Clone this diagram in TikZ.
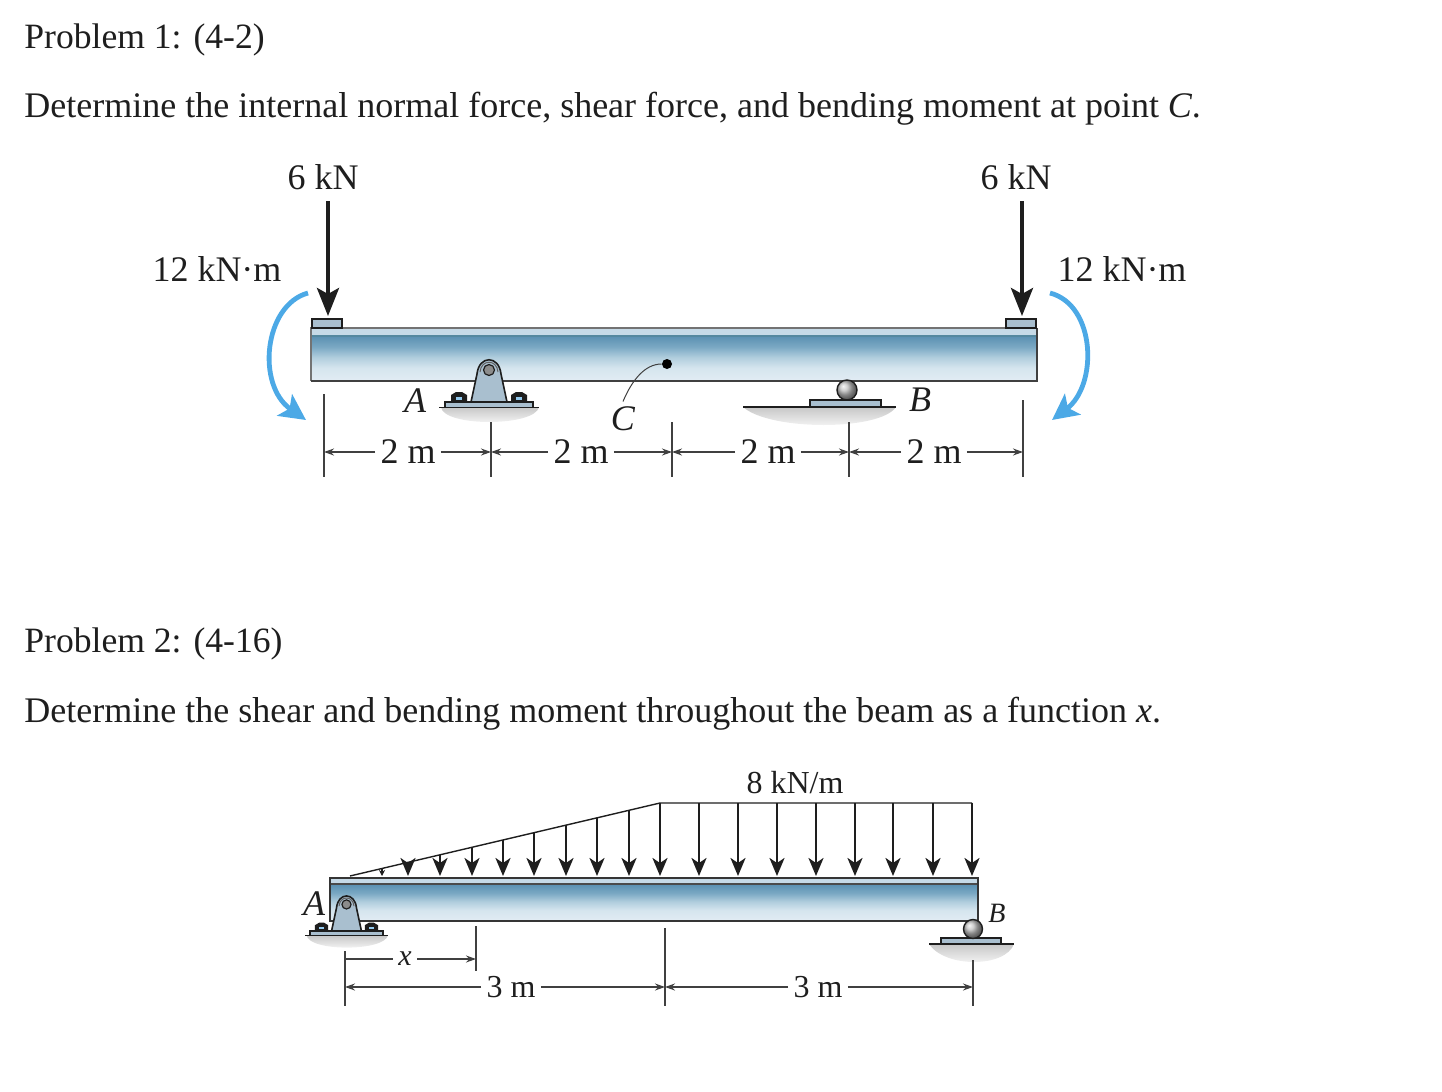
\documentclass[tikz,border=0pt]{standalone}
\usepackage{fontspec}
\setmainfont{Liberation Serif}
\usepackage{xcolor}
\usetikzlibrary{arrows.meta, positioning}
\definecolor{inkblack}{HTML}{1E1E1E}
\definecolor{steelblue}{HTML}{A9BFCF}
\definecolor{beamdark}{HTML}{54889F}
\definecolor{beamstrip}{HTML}{C6DAE7}
\definecolor{momentblue}{HTML}{4CA9E6}
\definecolor{faceA}{HTML}{5D92B3}
\definecolor{faceB}{HTML}{7BA9C4}
\definecolor{faceC}{HTML}{B0CDDD}
\definecolor{faceD}{HTML}{D5E5EE}
\definecolor{faceE}{HTML}{E2ECF4}
\pgfdeclareverticalshading{beamshade}{100bp}{color(0bp)=(faceE); color(25bp)=(faceE); color(40bp)=(faceD); color(52bp)=(faceC); color(63.5bp)=(faceB); color(75bp)=(faceA); color(100bp)=(faceA)}
\tikzset{
  >={Stealth},
  prose/.style={anchor=base west, inner sep=0pt, text=inkblack, font=\fontsize{18}{20}\selectfont},
  heading/.style={prose, font=\fontsize{17.8}{20}\selectfont},
  dimlabel/.style={inner sep=2.5pt, text=inkblack, font=\fontsize{18}{20}\selectfont},
  smalllabel/.style={inner sep=2.5pt, text=inkblack, font=\fontsize{16}{20}\selectfont},
  pointlabel/.style={inner sep=2.5pt, text=inkblack, font=\fontsize{18}{20}\selectfont\itshape},
  ticks/.style={draw=inkblack!85, line width=.8pt},
  dimline/.style={draw=inkblack!85, line width=.7pt, -{Stealth[length=5pt, width=3.5pt]}},
  forcearrow/.style={draw=inkblack, line width=2pt, -{Stealth[length=14pt, width=11pt, inset=3pt]}},
  loadarrow/.style={draw=inkblack, line width=1.3pt, -{Stealth[length=9pt, width=7.5pt, inset=2.5pt]}},
  momentarrow/.style={draw=momentblue, line width=2.4pt, -{Stealth[length=13pt, width=13pt, inset=3pt]}},
  beamface/.style={shading=beamshade},
  groundshade/.style={top color=black!22, bottom color=white},
  plate/.style={fill=steelblue, draw=inkblack, line width=.8pt},
  pics/pinsup/.style={code={
    \shade[groundshade] (-48,5) .. controls (-46,25) and (46,25) .. (50,5) -- cycle;
    \draw[plate] (-44,0) rectangle (44,5.5);
    \draw[inkblack, line width=.7pt] (-50,5.5) -- (50,5.5);
    \foreach \s in {-30,30}{
      \fill[inkblack] (\s-8,0) -- (\s-8,-7) -- (\s-3,-10) -- (\s+3,-10) -- (\s+8,-7) -- (\s+8,0) -- cycle;
      \fill[momentblue!60] (\s-3,-2.5) rectangle (\s+3,-5);
    }
    \draw[plate] (-18,0) -- (-12,-28) .. controls (-10,-47) and (10,-47) .. (12,-28) -- (18,0) -- cycle;
    \draw[inkblack!70, line width=.5pt] (-9,-30) .. controls (-8,-43) and (8,-43) .. (9,-30);
    \draw[fill=black!45, draw=inkblack, line width=.6pt] (0,-32) circle (5.5);
  }}
}
\begin{document}
\begin{tikzpicture}[x=.5pt, y=-.5pt]
  \useasboundingbox (0,0) rectangle (1442,1092);

  % text
  \node[heading] (title1) at (24,48) {Problem 1: (4-2)};
  \node[prose] (ask1) at (24,117) {Determine the internal normal force, shear force, and bending moment at point \textit{C}.};
  \node[heading] (title2) at (24,652) {Problem 2: (4-16)};
  \node[prose] (ask2) at (24,722) {Determine the shear and bending moment throughout the beam as a function \textit{x}.};

  % first beam
  \fill[beamstrip] (311,328) rectangle (1037,336);
  \fill[beamface] (311,337) rectangle (1037,381);
  \draw[beamdark, line width=1pt] (311,336) -- (1037,336);
  \draw[black!55, line width=1.4pt] (311,381) -- (311,328) -- (1037,328);
  \draw[inkblack!85, line width=1.2pt] (1037,328) -- (1037,381) -- (311,381);
  \draw[plate] (312,319) rectangle (342,328);
  \draw[plate] (1006,319) rectangle (1036,328);

  \pic at (489,402) {pinsup};
  \shade[groundshade] (743,407) .. controls (770,431) and (880,431) .. (896,407) -- cycle;
  \draw[plate] (810,400) rectangle (881,407);
  \draw[inkblack, line width=.7pt] (743,407) -- (896,407);
  \shade[ball color=black!25] (847,390) circle (10);
  \draw[inkblack, line width=.7pt] (847,390) circle (10);

  \node[dimlabel] (top6a) at (323,177) {6 kN};
  \node[dimlabel] (top6b) at (1016,177) {6 kN};
  \coordinate (capL) at (328,316);
  \coordinate (capR) at (1022,316);
  \draw[forcearrow] (328,201) -- (capL);
  \draw[forcearrow] (1022,201) -- (capR);

  \node[dimlabel] (momL) at (217,269) {12 kN·m};
  \node[dimlabel] (momR) at (1122,269) {12 kN·m};
  \coordinate (mL0) at (308,293);
  \coordinate (mL1) at (306,420);
  \coordinate (mR0) at (1050,293);
  \coordinate (mR1) at (1052,420);
  \draw[momentarrow] (mL0) .. controls (264,305) and (256,385) .. (mL1);
  \draw[momentarrow] (mR0) .. controls (1096,305) and (1098,385) .. (mR1);

  \node[pointlabel] (A1) at (415,401) {A};
  \node[pointlabel] (B1) at (920,400) {B};
  \node[pointlabel] (C1) at (623,419) {C};
  \node[circle, fill=black, inner sep=0pt, minimum size=5pt] (dotC) at (667,364) {};
  \draw[inkblack!85, line width=.5pt] (C1.north) .. controls (632,380) and (645,364) .. (dotC);

  \foreach \name/\x/\top in {t1/324/394, t2/491/422, t3/672/422, t4/849/422, t5/1023/400}{
    \coordinate (\name) at (\x,452);
    \draw[ticks] (\x,\top) -- (\x,477);
  }
  \foreach \a/\b/\x/\lab in {t1/t2/408/la, t2/t3/581/lb, t3/t4/768/lc, t4/t5/934/ld}{
    \node[dimlabel] (\lab) at (\x,452) {2 m};
    \draw[dimline] (\lab) -- (\a);
    \draw[dimline] (\lab) -- (\b);
  }

  % second beam
  \fill[beamstrip] (330,878) rectangle (978,884);
  \fill[beamface] (330,885) rectangle (978,921);
  \draw[inkblack!80, line width=1pt] (330,884) -- (978,884);
  \draw[inkblack!90, line width=1.1pt] (330,878) rectangle (978,921);

  \pic[scale=.83] at (346.5,931) {pinsup};
  \shade[groundshade] (929,944) .. controls (945,968) and (1005,968) .. (1014,944) -- cycle;
  \draw[plate] (941,938) rectangle (1001,944);
  \draw[inkblack, line width=.7pt] (929,944) -- (1014,944);
  \shade[ball color=black!25] (973,929) circle (9.5);
  \draw[inkblack, line width=.7pt] (973,929) circle (9.5);

  \coordinate (ramp0) at (350,876);
  \coordinate (ramp1) at (660,803);
  \coordinate (ramp2) at (972,803);
  \draw[inkblack, line width=.7pt] (ramp0) -- (ramp1) -- (ramp2);
  \draw[inkblack, line width=.8pt, -{Stealth[length=3pt, width=3pt]}] (382,869) -- (382,876);
  \foreach \x/\y in {408/862, 440/855, 472/847, 503/840, 534/833, 566/825, 597/818, 629/810, 660/803,
    699/803, 738/803, 777/803, 816/803, 855/803, 893/803, 933/803, 972/803}{
    \draw[loadarrow] (\x,\y) -- (\x,876);
  }

  \node[smalllabel] (load) at (795,783) {8 kN/m};
  \node[pointlabel] (A2) at (314,904) {A};
  \node[pointlabel, font=\fontsize{14}{16}\selectfont\itshape] (B2) at (997,913) {B};

  \foreach \name/\x/\top/\bot/\y in {s1/345/951/1006/987, s2/665/928/1006/987, s3/973/960/1006/987,
    xa/345/951/1006/959, xb/476/926/971/959}{
    \coordinate (\name) at (\x,\y);
    \draw[ticks] (\x,\top) -- (\x,\bot);
  }
  \node[pointlabel, font=\fontsize{15}{16}\selectfont\itshape] (xlab) at (405,959) {x};
  \draw[dimline, -] (xlab) -- (xa);
  \draw[dimline] (xlab) -- (xb);
  \foreach \a/\b/\x/\lab in {s1/s2/511/le, s2/s3/818/lf}{
    \node[smalllabel] (\lab) at (\x,987) {3 m};
    \draw[dimline] (\lab) -- (\a);
    \draw[dimline] (\lab) -- (\b);
  }
\end{tikzpicture}
\end{document}
